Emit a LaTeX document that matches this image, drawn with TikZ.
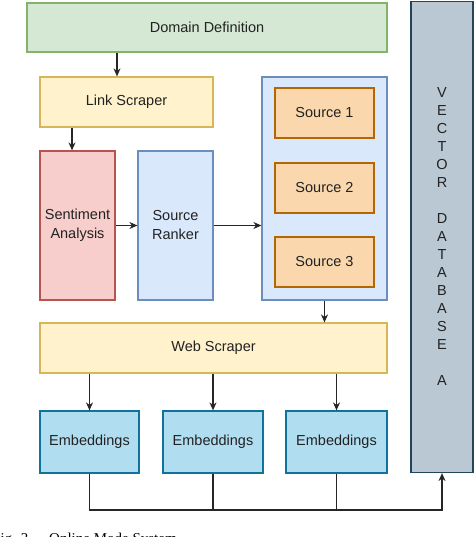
\documentclass[tikz,border=0pt]{standalone}
\usepackage{fontspec}
\setmainfont{Liberation Sans}
\newfontfamily\capfont{Liberation Serif}
\usetikzlibrary{arrows.meta}
\definecolor{gF}{HTML}{D5E8D4}\definecolor{gS}{HTML}{82B366}
\definecolor{yF}{HTML}{FFF2CC}\definecolor{yS}{HTML}{D6B656}
\definecolor{rF}{HTML}{F8CECC}\definecolor{rS}{HTML}{B85450}
\definecolor{bF}{HTML}{DAE8FC}\definecolor{bS}{HTML}{6C8EBF}
\definecolor{oF}{HTML}{FAD7AC}\definecolor{oS}{HTML}{B46504}
\definecolor{eF}{HTML}{B1DDF0}\definecolor{eS}{HTML}{10739E}
\definecolor{vF}{HTML}{BAC8D3}\definecolor{vS}{HTML}{23445D}
\definecolor{txt}{HTML}{222222}
\tikzset{
  box/.style={draw, rectangle, line width=1.2pt, inner sep=0pt, align=center,
    text=txt, font=\fontsize{14.5}{19}\selectfont},
  grn/.style={box, fill=gF, draw=gS},
  ylw/.style={box, fill=yF, draw=yS},
  red/.style={box, fill=rF, draw=rS},
  blu/.style={box, fill=bF, draw=bS},
  org/.style={box, fill=oF, draw=oS},
  emb/.style={box, fill=eF, draw=eS},
  vdbst/.style={box, fill=vF, draw=vS, font=\fontsize{14.5}{18}\selectfont},
  arr/.style={draw=black!85, line width=1.4pt, -{Stealth[length=8pt,width=7pt]}},
  ln/.style={draw=black!85, line width=1.4pt}
}
\begin{document}
\begin{tikzpicture}[x=1pt,y=-1pt]
\useasboundingbox (0,0) rectangle (474,537);
\node[grn, minimum width=360, minimum height=49] (dom) at (207,27.5) {Domain Definition};
\node[ylw, minimum width=173, minimum height=50] (link) at (126.5,102) {Link Scraper};
\node[red, minimum width=75, minimum height=149] (sent) at (77.5,225.5) {Sentiment\\Analysis};
\node[blu, minimum width=75, minimum height=149] (rank) at (175.5,225.5) {Source\\Ranker};
\node[blu, minimum width=125, minimum height=223] (cont) at (324.5,188.5) {};
\node[org, minimum width=99, minimum height=50] (s1) at (324.5,113) {Source 1};
\node[org, minimum width=99, minimum height=50] (s2) at (324.5,188) {Source 2};
\node[org, minimum width=99, minimum height=50] (s3) at (324.5,262) {Source 3};
\node[ylw, minimum width=347, minimum height=50] (web) at (213.5,348) {Web Scraper};
\node[emb, minimum width=99, minimum height=62] (e1) at (89.5,442) {Embeddings};
\node[emb, minimum width=100, minimum height=62] (e2) at (213,442) {Embeddings};
\node[emb, minimum width=101, minimum height=62] (e3) at (336.5,442) {Embeddings};
\node[vdbst, minimum width=62, minimum height=471] (vdb) at (442,237) {V\\E\\C\\T\\O\\R\\[18pt]D\\A\\T\\A\\B\\A\\S\\E\\[18pt]A};
\coordinate (a1) at (117,0);
\coordinate (a2) at (72,0);
\coordinate (bus) at (0,510);
\draw[arr] (dom.south -| a1) -- (link.north -| a1);
\draw[arr] (link.south -| a2) -- (sent.north -| a2);
\draw[arr] (sent.east) -- (rank.west);
\draw[arr] (rank.east) -- (rank.east -| cont.west);
\draw[arr] (cont.south) -- (web.north -| cont.south);
\draw[arr] (web.south -| e1.north) -- (e1.north);
\draw[arr] (web.south -| e2.north) -- (e2.north);
\draw[arr] (web.south -| e3.north) -- (e3.north);
\draw[ln] (e2.south) -- (e2.south |- bus);
\draw[ln] (e3.south) -- (e3.south |- bus);
\draw[arr] (e1.south) |- (bus -| vdb.south) -- (vdb.south);
\node[anchor=base west, inner sep=0pt, text=black, font=\capfont\fontsize{15}{15}\selectfont] (cap) at (-8,543) {Fig. 3.\hspace{17pt}Online Mode System};
\end{tikzpicture}
\end{document}
